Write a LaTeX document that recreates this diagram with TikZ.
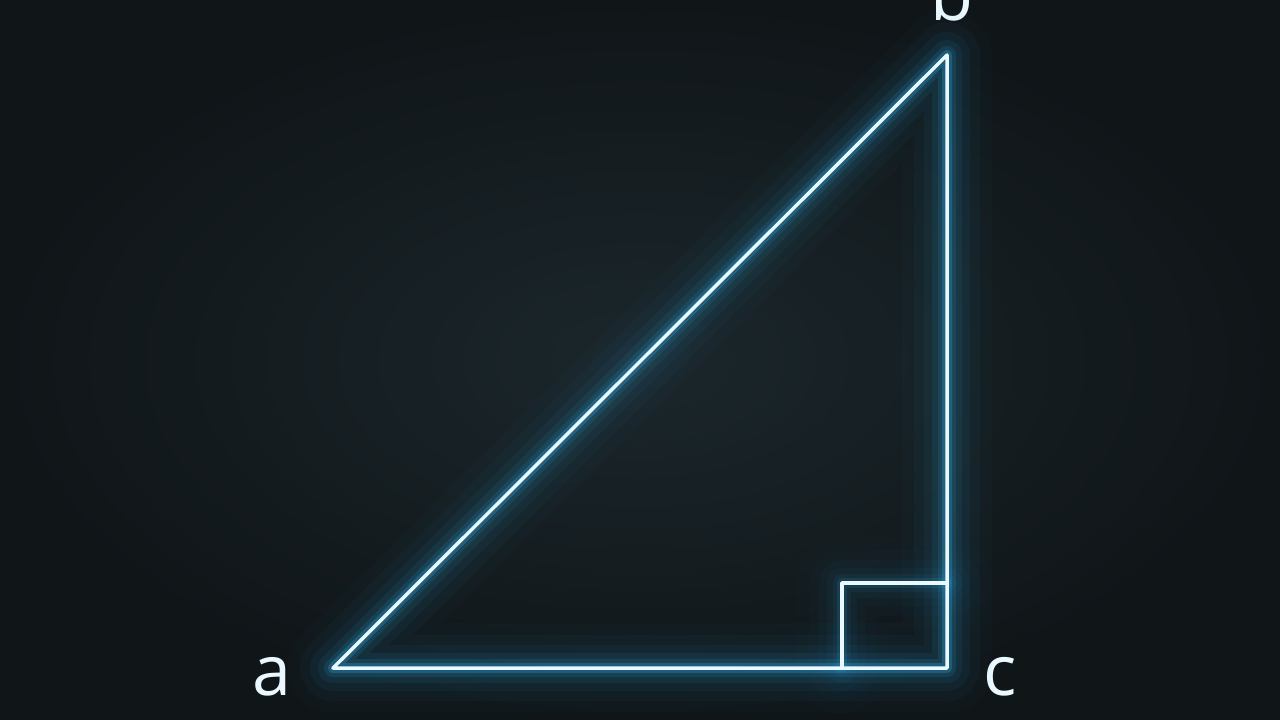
\documentclass[tikz,border=0pt]{standalone}
\usepackage{fontspec}
\setmainfont{Open Sans}
\definecolor{bgdark}{HTML}{101518}
\definecolor{bgmid}{HTML}{1B272C}
\definecolor{glow}{HTML}{2FA2D6}
\definecolor{neon}{HTML}{EAF8FF}

\begin{document}
\begin{tikzpicture}[x=1pt, y=-1pt]
		\tikzset{
			every node/.style={
				text=neon,
				inner sep=0pt,
				font=\fontsize{70}{80}\selectfont
			},
			halo/.style={
				draw=glow,
				line join=round,
				line cap=round
			},
			edge/.style={
				draw=neon,
				line width=3.5pt,
				line join=round,
				line cap=round
			}
		}

		% background
		\shade[inner color=bgmid, outer color=bgdark]
			(0, 0) rectangle (1280, 720);
		\useasboundingbox (0, 0) rectangle (1280, 720);

		\coordinate (a) at (333, 668);
		\coordinate (b) at (947, 55);
		\coordinate (c) at (947, 668);
		\coordinate (sq1) at (842, 668);
		\coordinate (sq2) at (842, 583);
		\coordinate (sq3) at (947, 583);

		\node[anchor=base] (la) at (272, 695) {a};
		\node[anchor=base] (lb) at (952, 20) {b};
		\node[anchor=base] (lc) at (1000, 695) {c};

		% glow
		\foreach \w/\o in {90/0.025, 66/0.04, 46/0.06, 30/0.09, 18/0.14, 10/0.3} {
			\draw[halo, line width=\w pt, opacity=\o]
				(a) -- (b) -- (c) -- cycle;
			\draw[halo, line width=\w pt, opacity=\o/2]
				(sq1) -- (sq2) -- (sq3);
		}

		\draw[edge] (a) -- (b) -- (c) -- cycle;
		\draw[edge] (sq1) -- (sq2) -- (sq3);

	\end{tikzpicture}
\end{document}
